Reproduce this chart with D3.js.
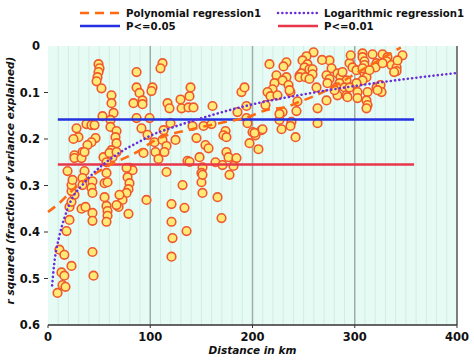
<!DOCTYPE html>
<html>
<head>
<meta charset="utf-8">
<script src="https://cdn.jsdelivr.net/npm/d3@7"></script>
<style>
  body { margin: 0; background: #fff; }
  text { font-family: "DejaVu Sans", sans-serif; font-weight: bold; fill: #111; }
</style>
</head>
<body>
<div id="chart"></div>
<script>
// scatter points: distance (km) and r squared
const distKm = [
  9.3, 13.2, 16, 14.2, 17.1, 11.2, 16, 23, 18.1, 21, 21, 23, 25.9, 23, 23, 19.1, 24, 35.7, 33.7, 33.7,
  43.5, 42.5, 43.5, 32.8, 36.7, 43.5, 43.5, 43.5, 44.5, 25.9, 33.7, 25.9, 32.8, 27.9, 29.8, 24.9, 37.6, 42.5, 45.5, 46.5,
  42.5, 38.6, 35.7, 49.4, 50.4, 49.4, 48.4, 47.5, 52.3,
  62.1, 62.1, 64.1, 53.3, 61.1, 61.1, 67, 66, 67, 62.1, 59.2, 54.3, 63.1, 57.2, 60.1, 67, 55.3, 58.2, 57.2, 55.3,
  57.2, 58.2, 58.2, 57.2, 79.7, 82.7, 77.8, 79.7, 78.7, 76.8, 72.9, 69.9, 69, 78.7, 67, 76.8, 86.6, 86.6, 89.5, 92.4,
  83.6, 92.4, 86.6, 91.4, 97.3, 93.4, 96.3, 99.3,
  104.2, 105.1, 108, 112, 110, 102.2, 101.2, 139.4, 138.4, 129.6, 130.6, 137.4, 142.3, 116.9, 118.8, 119.8, 113, 112, 115.9, 113.9,
  124.7, 141.3, 145.2, 136.4, 148.2, 151.1, 150.1, 115.9, 120.8, 133.5, 131.6, 120.8, 135.5, 121.8, 120.8, 151.1, 150.1, 151.1, 138.4,
  152.1, 159.9, 154, 157, 160.9, 173.6, 171.6, 174.5, 174.5, 176.5, 184.3, 163.8, 170.7, 181.4, 177.5, 165.8, 169.7, 189.2, 192.2, 185.3,
  194.1, 194.1, 195.1, 197.1, 200, 202.9, 208.8, 205.8,
  216.6, 233.2, 230.3, 223.4, 233.2, 229.4, 235.2, 237.1, 221.5, 219.6, 214.7, 217.6, 224.4, 212.7, 229.4, 243, 244, 236.2, 226.4, 238.1,
  228.4, 209.8, 202, 242.1, 237.1, 226.4, 246, 248.9,
  259.7, 252.8, 248.9, 253.8, 250.9, 255.7, 258.7, 258.7, 247.9, 246, 251.8, 255.7, 275.3, 277.3, 272.4, 275.3, 273.3, 262.6, 263.6, 272.4,
  263.6, 283.1, 286, 288, 291.9, 285.1, 282.2, 290, 283.1, 291.9, 280.2, 292.9, 294.9, 297.8,
  301.7, 309.5, 311.5, 307.6, 301.7, 294.9, 307.6, 307.6, 309.5, 309.5, 307.6, 317.4, 321.3, 320.3, 314.4, 327.2, 332, 331.1, 327.2, 335.9,
  340.9, 340.9, 346.7, 341.8, 302.7, 312.5, 321.3, 325.2, 326.2, 322.3, 302.7, 311.5, 312.5, 311.5, 338.5, 268, 296
]
const rSquared = [
  0.531, 0.487, 0.494, 0.514, 0.518, 0.438, 0.449, 0.473, 0.398, 0.374, 0.346, 0.335, 0.320, 0.312, 0.299, 0.269, 0.288, 0.269, 0.284, 0.299,
  0.291, 0.305, 0.316, 0.350, 0.346, 0.359, 0.376, 0.443, 0.494, 0.235, 0.228, 0.241, 0.241, 0.177, 0.196, 0.200, 0.168, 0.170, 0.170, 0.198,
  0.207, 0.213, 0.228, 0.039, 0.048, 0.056, 0.067, 0.076, 0.091,
  0.106, 0.123, 0.144, 0.151, 0.159, 0.174, 0.183, 0.196, 0.209, 0.224, 0.235, 0.239, 0.239, 0.250, 0.230, 0.228, 0.295, 0.293, 0.273, 0.325,
  0.344, 0.355, 0.365, 0.378, 0.262, 0.267, 0.282, 0.295, 0.308, 0.316, 0.331, 0.320, 0.346, 0.361, 0.342, 0.262, 0.056, 0.089, 0.101, 0.117,
  0.123, 0.125, 0.155, 0.177, 0.191, 0.230, 0.331, 0.155,
  0.207, 0.228, 0.243, 0.037, 0.048, 0.089, 0.097, 0.089, 0.108, 0.115, 0.134, 0.132, 0.132, 0.123, 0.134, 0.166, 0.181, 0.202, 0.215, 0.228,
  0.202, 0.172, 0.198, 0.247, 0.239, 0.261, 0.273, 0.271, 0.340, 0.348, 0.299, 0.378, 0.398, 0.413, 0.453, 0.316, 0.293, 0.277, 0.249,
  0.172, 0.168, 0.213, 0.220, 0.129, 0.183, 0.192, 0.196, 0.228, 0.239, 0.241, 0.250, 0.256, 0.258, 0.277, 0.325, 0.370, 0.099, 0.089, 0.142,
  0.129, 0.155, 0.166, 0.209, 0.185, 0.192, 0.181, 0.222,
  0.039, 0.035, 0.044, 0.063, 0.067, 0.074, 0.084, 0.099, 0.080, 0.093, 0.099, 0.108, 0.106, 0.127, 0.142, 0.140, 0.119, 0.095, 0.159, 0.163,
  0.179, 0.179, 0.187, 0.196, 0.172, 0.146, 0.063, 0.056,
  0.0135, 0.022, 0.031, 0.039, 0.046, 0.050, 0.050, 0.061, 0.059, 0.067, 0.067, 0.071, 0.031, 0.048, 0.063, 0.071, 0.080, 0.089, 0.134, 0.117,
  0.166, 0.059, 0.067, 0.056, 0.074, 0.080, 0.089, 0.089, 0.106, 0.106, 0.095, 0.110, 0.037, 0.046,
  0.052, 0.059, 0.067, 0.074, 0.080, 0.089, 0.016, 0.024, 0.033, 0.041, 0.048, 0.018, 0.037, 0.046, 0.052, 0.018, 0.024, 0.033, 0.037, 0.041,
  0.046, 0.054, 0.020, 0.031, 0.099, 0.099, 0.089, 0.084, 0.099, 0.095, 0.112, 0.117, 0.127, 0.134, 0.056, 0.030, 0.020
]

// polynomial regression curve
const polyKm = [0, 11, 24, 57, 90, 102, 145, 174, 194, 213, 233, 246, 262, 282, 301, 321, 345]
const polyR = [0.357, 0.338, 0.310, 0.260, 0.224, 0.206, 0.177, 0.163, 0.154, 0.138, 0.131, 0.120, 0.106, 0.084, 0.059, 0.034, 0.003]

// logarithmic regression curve
const logKm = [4, 6, 11, 16, 23, 34, 49, 63, 77, 90, 100, 122, 155, 197, 250, 300, 350, 400]
const logR = [0.515, 0.47, 0.41, 0.37, 0.33, 0.298, 0.264, 0.240, 0.220, 0.205, 0.193, 0.175, 0.152, 0.127, 0.104, 0.086, 0.071, 0.058]

// significance thresholds
const thresholdNames = ['P<=0.05', 'P<=0.01']
const thresholdR = [0.158, 0.255]
const thresholdKm = [9.6, 358]

const xTicks = [0, 100, 200, 300, 400]
const yTicks = [0, 0.1, 0.2, 0.3, 0.4, 0.5, 0.6]

const W = 474, H = 361
const margin = { top: 46, right: 17, bottom: 36, left: 48 }
const width = W - margin.left - margin.right
const height = H - margin.top - margin.bottom

const svg = d3.select('#chart').append('svg').attr('width', W).attr('height', H)
const g = svg.append('g').attr('transform', `translate(${margin.left},${margin.top})`)

const x = d3.scaleLinear().domain([0, 400]).range([0, width])
const y = d3.scaleLinear().domain([0, 0.6]).range([0, height])

// background
g.append('rect').attr('width', width).attr('height', height).attr('fill', '#e6fbf4')

// minor vertical grid every 10 km
g.selectAll('line.minor')
  .data(d3.range(10, 400, 10).filter(v => v % 100 !== 0))
  .join('line')
  .attr('class', 'minor')
  .attr('x1', d => x(d)).attr('x2', d => x(d))
  .attr('y1', 0).attr('y2', height)
  .attr('stroke', '#d0eee6').attr('stroke-width', 1)

// major grid
g.selectAll('line.major')
  .data([100, 200, 300, 400])
  .join('line')
  .attr('class', 'major')
  .attr('x1', d => x(d)).attr('x2', d => x(d))
  .attr('y1', 0).attr('y2', height)
  .attr('stroke', d => d === 400 ? '#555' : '#9eaeaa').attr('stroke-width', 1.5)

// points
const points = distKm.map((d, i) => ({ km: d, r: rSquared[i] }))
g.selectAll('circle')
  .data(points)
  .join('circle')
  .attr('cx', d => x(d.km))
  .attr('cy', d => y(d.r))
  .attr('r', 4.3)
  .attr('fill', '#ffea78')
  .attr('stroke', '#f0592b')
  .attr('stroke-width', 1.6)

// threshold lines
const thrColors = ['#2530e0', '#e8364a']
thresholdR.forEach((v, i) => {
  g.append('line')
    .attr('x1', x(thresholdKm[0])).attr('x2', x(thresholdKm[1]))
    .attr('y1', y(v)).attr('y2', y(v))
    .attr('stroke', thrColors[i]).attr('stroke-width', 2.5)
})

// regression curves
const line = d3.line().x(d => x(d[0])).y(d => y(d[1])).curve(d3.curveMonotoneX)
g.append('path')
  .datum(polyKm.map((d, i) => [d, polyR[i]]))
  .attr('d', line)
  .attr('fill', 'none')
  .attr('stroke', '#ff6a12')
  .attr('stroke-width', 2.6)
  .attr('stroke-dasharray', '9,6')
g.append('path')
  .datum(logKm.map((d, i) => [d, logR[i]]))
  .attr('d', line)
  .attr('fill', 'none')
  .attr('stroke', '#6a2ddb')
  .attr('stroke-width', 2.6)
  .attr('stroke-linecap', 'round')
  .attr('stroke-dasharray', '0.1,4.2')

// x axis
g.append('line')
  .attr('x1', 0).attr('x2', width).attr('y1', height).attr('y2', height)
  .attr('stroke', '#333').attr('stroke-width', 1.5)
g.selectAll('line.xtick')
  .data(xTicks)
  .join('line')
  .attr('class', 'xtick')
  .attr('x1', d => x(d)).attr('x2', d => x(d))
  .attr('y1', height).attr('y2', height + 3)
  .attr('stroke', '#333')
g.selectAll('text.xlab')
  .data(xTicks)
  .join('text')
  .attr('class', 'xlab')
  .attr('x', d => x(d))
  .attr('y', height + 16)
  .attr('text-anchor', 'middle')
  .style('font-size', '11.5px')
  .text(d => d)

// y axis ticks
g.selectAll('line.ytick')
  .data(yTicks.filter(d => d > 0 && d < 0.6))
  .join('line')
  .attr('class', 'ytick')
  .attr('x1', -4).attr('x2', 0)
  .attr('y1', d => y(d)).attr('y2', d => y(d))
  .attr('stroke', '#333')
g.selectAll('text.ylab')
  .data(yTicks)
  .join('text')
  .attr('class', 'ylab')
  .attr('x', -8)
  .attr('y', d => y(d))
  .attr('dy', '0.35em')
  .attr('text-anchor', 'end')
  .style('font-size', '11.5px')
  .text(d => d)

// axis titles
svg.append('text')
  .attr('x', margin.left + width / 2)
  .attr('y', 354)
  .attr('text-anchor', 'middle')
  .style('font-size', '10.5px')
  .style('font-style', 'italic')
  .text('Distance in km')
svg.append('text')
  .attr('transform', `translate(14,${margin.top + height / 2 - 5}) rotate(-90)`)
  .attr('text-anchor', 'middle')
  .style('font-size', '10.5px')
  .style('font-style', 'italic')
  .text('r squared (fraction of variance explained)')

// legend
const legend = [
  { name: 'Polynomial regression1', color: '#ff6a12', dash: '9,6', cap: 'butt', x0: 80, y0: 13 },
  { name: 'Logarithmic regression1', color: '#6a2ddb', dash: '0.1,4.2', cap: 'round', x0: 278, y0: 13 },
  { name: thresholdNames[0], color: thrColors[0], dash: null, cap: 'butt', x0: 80, y0: 26 },
  { name: thresholdNames[1], color: thrColors[1], dash: null, cap: 'butt', x0: 278, y0: 26 }
]
legend.forEach(l => {
  svg.append('line')
    .attr('x1', l.x0).attr('x2', l.x0 + 40)
    .attr('y1', l.y0).attr('y2', l.y0)
    .attr('stroke', l.color).attr('stroke-width', 2.5)
    .attr('stroke-linecap', l.cap)
    .attr('stroke-dasharray', l.dash)
  svg.append('text')
    .attr('x', l.x0 + 46)
    .attr('y', l.y0)
    .attr('dy', '0.35em')
    .style('font-size', '10.2px')
    .text(l.name)
})
</script>
</body>
</html>
